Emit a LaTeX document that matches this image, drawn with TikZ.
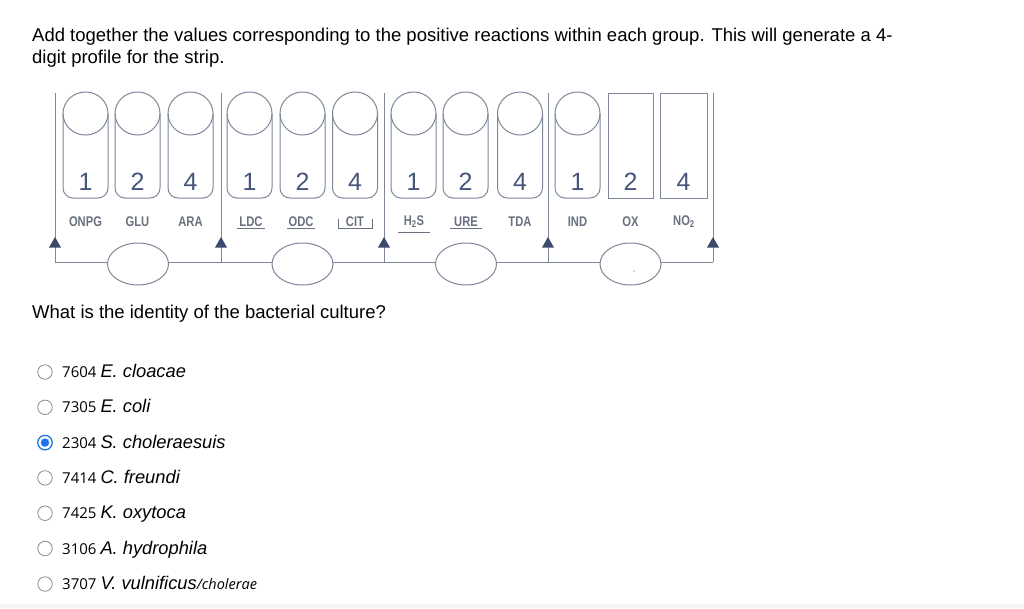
\documentclass[tikz,border=0pt]{standalone}
\usepackage{fontspec}
\setmainfont{Liberation Sans}
\newfontfamily\numfont{Open Sans}
\newfontfamily\labfont[FakeStretch=0.8]{Liberation Sans}
\usetikzlibrary{calc}
\definecolor{linec}{HTML}{7E8899}
\definecolor{digc}{HTML}{46547A}
\definecolor{labc}{HTML}{69717F}
\definecolor{arrc}{HTML}{3B4A6D}
\definecolor{radioc}{HTML}{8C8C8C}
\definecolor{selc}{HTML}{1A73E8}
\definecolor{bandc}{HTML}{F4F4F4}
\tikzset{
  tubeline/.style={draw=linec, line width=1pt},
  digit/.style={font=\fontsize{25}{25}\selectfont, text=digc, inner sep=0pt},
  lab/.style={font=\labfont\bfseries\fontsize{14}{15}\selectfont, text=labc, inner sep=0pt},
  uline/.style={draw=labc, line width=1pt},
  wire/.style={draw=linec, line width=1pt},
  arrowtip/.style={fill=arrc},
  oval/.style={draw=linec, fill=white, line width=1pt},
  body/.style={font=\fontsize{18.5}{21}\selectfont, inner sep=0pt},
  radio/.style={circle, draw=radioc, line width=0.8pt, minimum size=14.5pt, inner sep=0pt},
  opt/.style={anchor=base west, font=\fontsize{18.3}{21}\selectfont, inner sep=0pt}
}
\begin{document}
\begin{tikzpicture}[x=1pt,y=-1pt]
\useasboundingbox (0,0) rectangle (1024,608);
\fill[white] (0,0) rectangle (1024,608);
\fill[bandc] (0,604) rectangle (1024,608);
% instruction text
\node[body, anchor=base west] (t1) at (32,41) {Add together the values corresponding to the positive reactions within each group. This will generate a 4-};
\node[body, anchor=base west] (t2) at (32,63) {digit profile for the strip.};
% tubes
\foreach \x/\d [count=\i] in {85.5/1,137.5/2,190.5/4,249.5/1,302.5/2,355/4,413.5/1,465.5/2,520/4,577.5/1}{
  \draw[tubeline, rounded corners=10pt] (\x-22.5,113.5) -- (\x-22.5,198) -- (\x+22.5,198) -- (\x+22.5,113.5);
  \draw[tubeline] (\x,113.5) ellipse [x radius=22.5, y radius=21.5];
  \node[digit] (d\i) at (\x,182) {\d};
}
\draw[tubeline] (608,93) rectangle (653,198);
\node[digit] (d11) at (630.5,182) {2};
\draw[tubeline] (660,93) rectangle (707,198);
\node[digit] (d12) at (683.5,182) {4};
% labels
\node[lab] (l1) at (85.5,222) {ONPG};
\node[lab] (l2) at (137.5,222) {GLU};
\node[lab] (l3) at (190.5,222) {ARA};
\node[lab] (l4) at (251,222) {LDC};
\node[lab] (l5) at (301,222) {ODC};
\node[lab] (l6) at (355,222) {CIT};
\node[lab] (l7) at (414,222) {H\textsubscript{2}S};
\node[lab] (l8) at (466,222) {URE};
\node[lab] (l9) at (520,222) {TDA};
\node[lab] (l10) at (577.5,222) {IND};
\node[lab] (l11) at (630.5,222) {OX};
\node[lab] (l12) at (684,222) {NO\textsubscript{2}};
\draw[uline] ($(l4.center)+(-14,6.5)$) -- ($(l4.center)+(14,6.5)$);
\draw[uline] ($(l5.center)+(-14,6.5)$) -- ($(l5.center)+(14,6.5)$);
\draw[uline] ($(l6.center)+(-17,-3)$) -- ($(l6.center)+(-17,6.5)$) -- ($(l6.center)+(17,6.5)$) -- ($(l6.center)+(17,-3)$);
\draw[uline] ($(l7.center)+(-16,10)$) -- ($(l7.center)+(16,10)$);
\draw[uline] ($(l8.center)+(-16,6.5)$) -- ($(l8.center)+(16,6.5)$);
% dividers with arrows
\foreach \x [count=\i] in {55,221,384,548,713}{
  \coordinate (top\i) at (\x,93);
  \coordinate (bot\i) at (\x,262);
  \draw[wire] (top\i) -- (bot\i);
  \fill[arrowtip] (\x,237) -- (\x-6,247.5) -- (\x+6,247.5) -- cycle;
}
\draw[wire] (bot1) -- (bot5);
% ovals
\foreach \x [count=\i] in {138,302.5,466,630.5}{
  \draw[oval] (\x,264) ellipse [x radius=30.5, y radius=21];
}
\fill[linec!70] (634,271) circle (0.9);
% question
\node[body, anchor=base west] (q) at (32,318) {What is the identity of the bacterial culture?};
% options
\foreach \num/\name [count=\k from 0] in {7604/E. cloacae, 7305/E. coli, 2304/S. choleraesuis, 7414/C. freundi, 7425/K. oxytoca, 3106/A. hydrophila}{
  \node[radio] (r\k) at (45,372+35.3*\k) {};
  \node[opt] (o\k) at (62,377.5+35.3*\k) {{\numfont\fontsize{15}{18}\selectfont \num}\hspace{4pt}{\itshape \name}};
}
\node[radio] (r6) at (45,584) {};
\node[opt] (o6) at (62,589.5) {{\numfont\fontsize{15}{18}\selectfont 3707}\hspace{4pt}{\itshape V. vulnificus}{\numfont\itshape\fontsize{14.5}{16}\selectfont /cholerae}};
% selected
\node[circle, draw=selc, line width=1.2pt, minimum size=14.5pt, inner sep=0pt, fill=white] (sel) at (r2) {};
\fill[selc] (sel.center) circle (4.2);
\end{tikzpicture}
\end{document}
